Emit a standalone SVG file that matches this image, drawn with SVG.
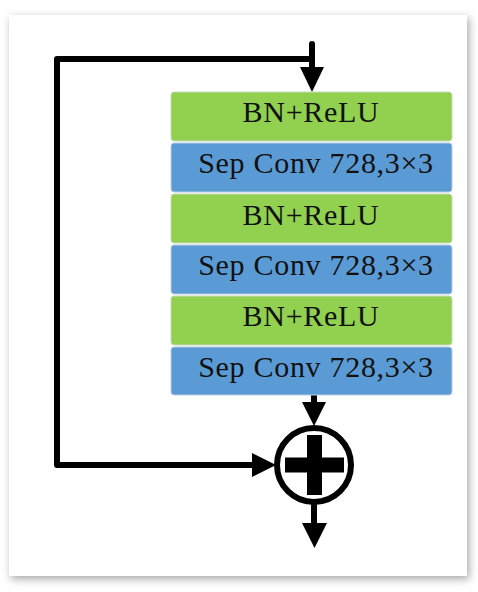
<svg xmlns="http://www.w3.org/2000/svg" width="478" height="592" viewBox="0 0 478 592">
<style>
.bn{fill:#92D050;stroke:#c9d9bd;stroke-width:1}
.sc{fill:#5B9BD5;stroke:#b9cde0;stroke-width:1}
.t{font-family:"Liberation Serif","Times New Roman",serif;font-size:30px;letter-spacing:0.7px;fill:#111;text-anchor:middle}
.ln{fill:none;stroke:#000;stroke-width:6;stroke-linejoin:round;stroke-linecap:round}
.ah{fill:#000}
</style>
<defs>
<filter id="sh" x="-10%" y="-10%" width="120%" height="120%">
<feDropShadow dx="2" dy="3" stdDeviation="4" flood-color="#000" flood-opacity="0.35"/>
</filter>
</defs>
<rect x="0" y="0" width="478" height="592" fill="#fff"/>
<rect x="9" y="15" width="458" height="561" fill="#fff" filter="url(#sh)"/>
<g id="connectors">
<path class="ln" d="M312,44 V70"/>
<polygon class="ah" points="300,67 324,67 312,92"/>
<path class="ln" d="M312,59 H57 V465 H254"/>
<polygon class="ah" points="252,453 252,477 276,465"/>
<path class="ln" d="M314,396 V406"/>
<polygon class="ah" points="302,402 326,402 314,426"/>
<path class="ln" d="M314,505 V526"/>
<polygon class="ah" points="302,523 327,523 314.5,548"/>
</g>
<g id="n1"><rect class="bn" x="171" y="92" width="281" height="49" rx="3"/><text class="t" x="311" y="122">BN+ReLU</text></g>
<g id="n2"><rect class="sc" x="171" y="143" width="281" height="49" rx="3"/><text class="t" x="316" y="173">Sep Conv 728,3×3</text></g>
<g id="n3"><rect class="bn" x="171" y="194" width="281" height="49" rx="3"/><text class="t" x="311" y="224.5">BN+ReLU</text></g>
<g id="n4"><rect class="sc" x="171" y="245" width="281" height="49" rx="3"/><text class="t" x="316" y="275">Sep Conv 728,3×3</text></g>
<g id="n5"><rect class="bn" x="171" y="296" width="281" height="49" rx="3"/><text class="t" x="311" y="326">BN+ReLU</text></g>
<g id="n6"><rect class="sc" x="171" y="347" width="281" height="48" rx="3"/><text class="t" x="316" y="377">Sep Conv 728,3×3</text></g>
<g id="add">
<circle cx="314" cy="465" r="37" fill="#fff" stroke="#000" stroke-width="6"/>
<rect x="285" y="457.5" width="59" height="15" fill="#000"/>
<rect x="307" y="435" width="15" height="60" fill="#000"/>
</g>
</svg>
